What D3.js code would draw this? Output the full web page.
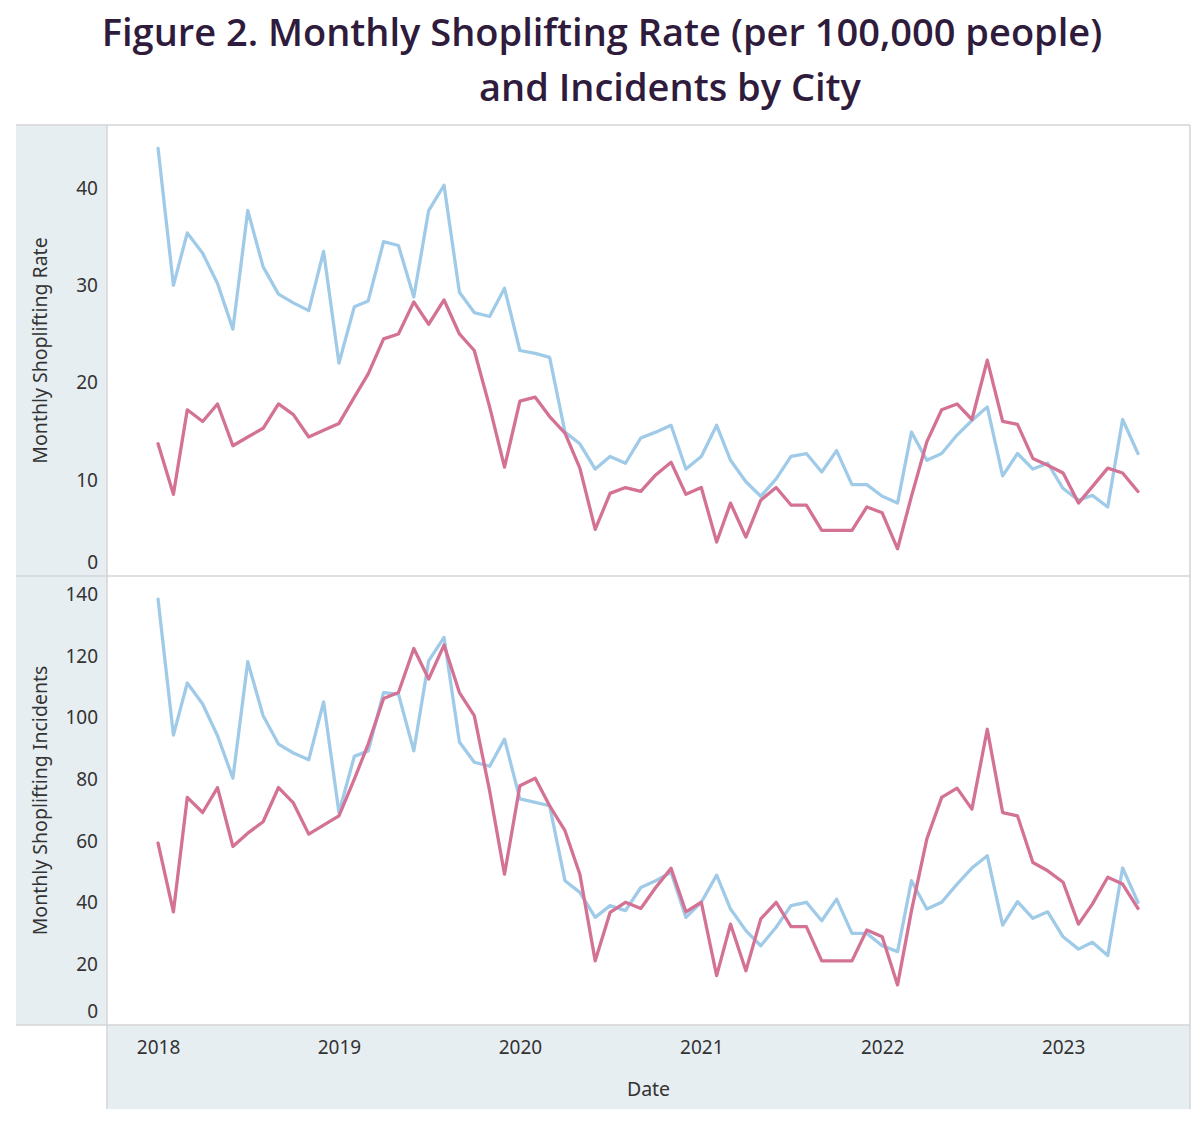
<!DOCTYPE html>
<html>
<head>
<meta charset="utf-8">
<script src="https://d3js.org/d3.v7.min.js"></script>
<style>
  body { margin: 0; background: #fff; }
  text { font-family: "Noto Sans", "Open Sans", sans-serif; fill: #333; }
</style>
</head>
<body>
<svg id="chart" width="1200" height="1123"></svg>
<script>
// months Jan 2018 .. Jun 2023
const months = d3.timeMonth.range(new Date(2018, 0, 1), new Date(2023, 6, 1));
const yearTicks = ["2018", "2019", "2020", "2021", "2022", "2023"];

// monthly shoplifting rate per 100,000 people
const rateBlue = [44.0,29.9,35.3,33.2,30.1,25.4,37.6,31.8,29.0,28.1,
  27.3,33.4,21.9,27.7,28.3,34.4,34.0,28.7,37.6,40.2,
  29.2,27.1,26.7,29.6,23.2,22.9,22.5,14.8,13.6,11.0,
  12.3,11.6,14.2,14.8,15.5,11.0,12.3,15.5,11.9,9.7,
  8.2,10.0,12.3,12.6,10.7,12.9,9.4,9.4,8.2,7.5,
  14.8,11.9,12.6,14.5,16.0,17.4,10.3,12.6,11.0,11.6,
  9.0,7.8,8.3,7.1,16.1,12.6];
const ratePink = [13.6,8.4,17.1,15.9,17.7,13.4,14.3,15.2,17.7,16.6,
  14.3,15.0,15.7,18.4,20.8,24.4,24.9,28.2,25.9,28.4,
  24.9,23.2,17.4,11.2,18.0,18.4,16.4,14.7,11.1,4.8,
  8.5,9.1,8.7,10.4,11.7,8.4,9.1,3.5,7.5,4.0,
  7.8,9.1,7.3,7.3,4.7,4.7,4.7,7.1,6.5,2.8,
  8.2,13.8,17.1,17.7,16.1,22.2,15.9,15.6,12.1,11.4,
  10.6,7.5,9.2,11.1,10.6,8.7];

// monthly shoplifting incidents
const incBlue = [138.1,94.0,110.9,104.1,93.8,80.0,117.8,100.3,91.1,88.2,
  86.0,104.8,68.9,87.1,88.9,107.8,107.3,88.9,118.1,125.7,
  91.8,85.2,83.9,92.7,73.3,72.2,71.1,46.8,43.0,34.9,
  38.7,37.1,44.6,46.8,49.5,34.9,39.8,48.6,37.6,30.6,
  25.7,31.7,38.7,39.8,33.8,40.8,29.7,29.7,25.7,23.8,
  46.8,37.6,39.8,45.7,50.9,54.9,32.4,40.0,34.6,36.7,
  28.6,24.6,26.8,22.5,50.9,39.8];
const incPink = [59.0,36.7,73.8,68.9,77.0,57.9,62.2,65.9,77.0,72.0,
  61.9,64.8,67.8,79.7,91.1,105.9,107.8,122.1,112.2,123.2,
  107.8,100.3,75.9,48.9,77.6,80.0,71.1,63.0,48.9,20.8,
  36.5,39.8,37.8,44.6,50.8,36.7,39.8,16.0,32.7,17.6,
  34.4,39.8,31.9,31.9,20.8,20.8,20.8,30.8,28.6,13.0,
  37.0,60.3,73.8,76.8,70.0,95.9,68.9,67.8,52.7,50.0,
  46.3,32.7,39.2,47.9,45.7,37.8];

const rateTicks = [0, 10, 20, 30, 40];
const incTicks = [0, 20, 40, 60, 80, 100, 120, 140];

const blue = "#a0cbe8", pink = "#d37295";
const bandFill = "#e7eef1", border = "#d4d4d4";

const L = 16, A = 107, R = 1190;   // outer left, axis divider, right edge
const T1 = 125, B1 = 576, B2 = 1025, B3 = 1109;

const svg = d3.select("#chart");

// title
const title = svg.append("g").attr("font-weight", 600);
title.append("text").attr("x", 602).attr("y", 46).attr("text-anchor", "middle")
  .style("font-size", "38px").style("fill", "#2f1b3c").style("font-family", "'Open Sans', sans-serif")
  .text("Figure 2. Monthly Shoplifting Rate (per 100,000 people)");
title.append("text").attr("x", 670).attr("y", 101).attr("text-anchor", "middle")
  .style("font-size", "38px").style("fill", "#2f1b3c").style("font-family", "'Open Sans', sans-serif")
  .text("and Incidents by City");

// backgrounds
svg.append("rect").attr("x", L).attr("y", T1).attr("width", A - L).attr("height", B2 - T1).attr("fill", bandFill);
svg.append("rect").attr("x", A).attr("y", B2).attr("width", R - A).attr("height", B3 - B2).attr("fill", bandFill);

const x = d3.scaleTime()
  .domain([new Date(2017, 8, 20), new Date(2023, 8, 14)])
  .range([A, R]);

const panels = [
  { top: T1, bottom: B1, max: 46.4, ticks: rateTicks, title: "Monthly Shoplifting Rate", series: [rateBlue, ratePink] },
  { top: B1, bottom: B2, max: 145.6, ticks: incTicks, title: "Monthly Shoplifting Incidents", series: [incBlue, incPink] }
];

panels.forEach(p => {
  const y = d3.scaleLinear().domain([0, p.max]).range([p.bottom, p.top]);

  const ax = svg.append("g").attr("transform", `translate(${A - 9},0)`)
    .call(d3.axisLeft(y).tickValues(p.ticks).tickSize(0).tickPadding(0));
  ax.select(".domain").remove();
  ax.selectAll("text").style("font-size", "19px").style("fill", "#333")
    .attr("dy", d => d === 0 ? "-0.4em" : "0.38em");

  svg.append("text")
    .attr("transform", `translate(47,${(p.top + p.bottom) / 2}) rotate(-90)`)
    .attr("text-anchor", "middle")
    .style("font-size", "19.5px")
    .text(p.title);

  const line = d3.line().x((d, i) => x(months[i])).y(d => y(d));
  [blue, pink].forEach((c, k) => {
    svg.append("path").datum(p.series[k])
      .attr("d", line)
      .attr("fill", "none")
      .attr("stroke", c)
      .attr("stroke-width", 3.3)
      .attr("stroke-linejoin", "round")
      .attr("stroke-linecap", "round");
  });
});

// x axis
const xa = svg.append("g").attr("transform", `translate(0,${B2 + 15})`)
  .call(d3.axisBottom(x)
    .tickValues(yearTicks.map(s => new Date(+s, 0, 1)))
    .tickFormat(d3.timeFormat("%Y")).tickSize(0).tickPadding(0));
xa.select(".domain").remove();
xa.selectAll("text").style("font-size", "19px").style("fill", "#333");

svg.append("text").attr("x", (A + R) / 2).attr("y", 1096).attr("text-anchor", "middle")
  .style("font-size", "19.5px").text("Date");

// borders
const lines = [
  [L, T1, R, T1], [L, B1, R, B1], [L, B2, R, B2],
  [A, T1, A, B3], [R, T1, R, B3]
];
svg.selectAll("line.b").data(lines).join("line")
  .attr("x1", d => d[0]).attr("y1", d => d[1]).attr("x2", d => d[2]).attr("y2", d => d[3])
  .attr("stroke", border).attr("stroke-width", 1.5);
</script>
</body>
</html>
